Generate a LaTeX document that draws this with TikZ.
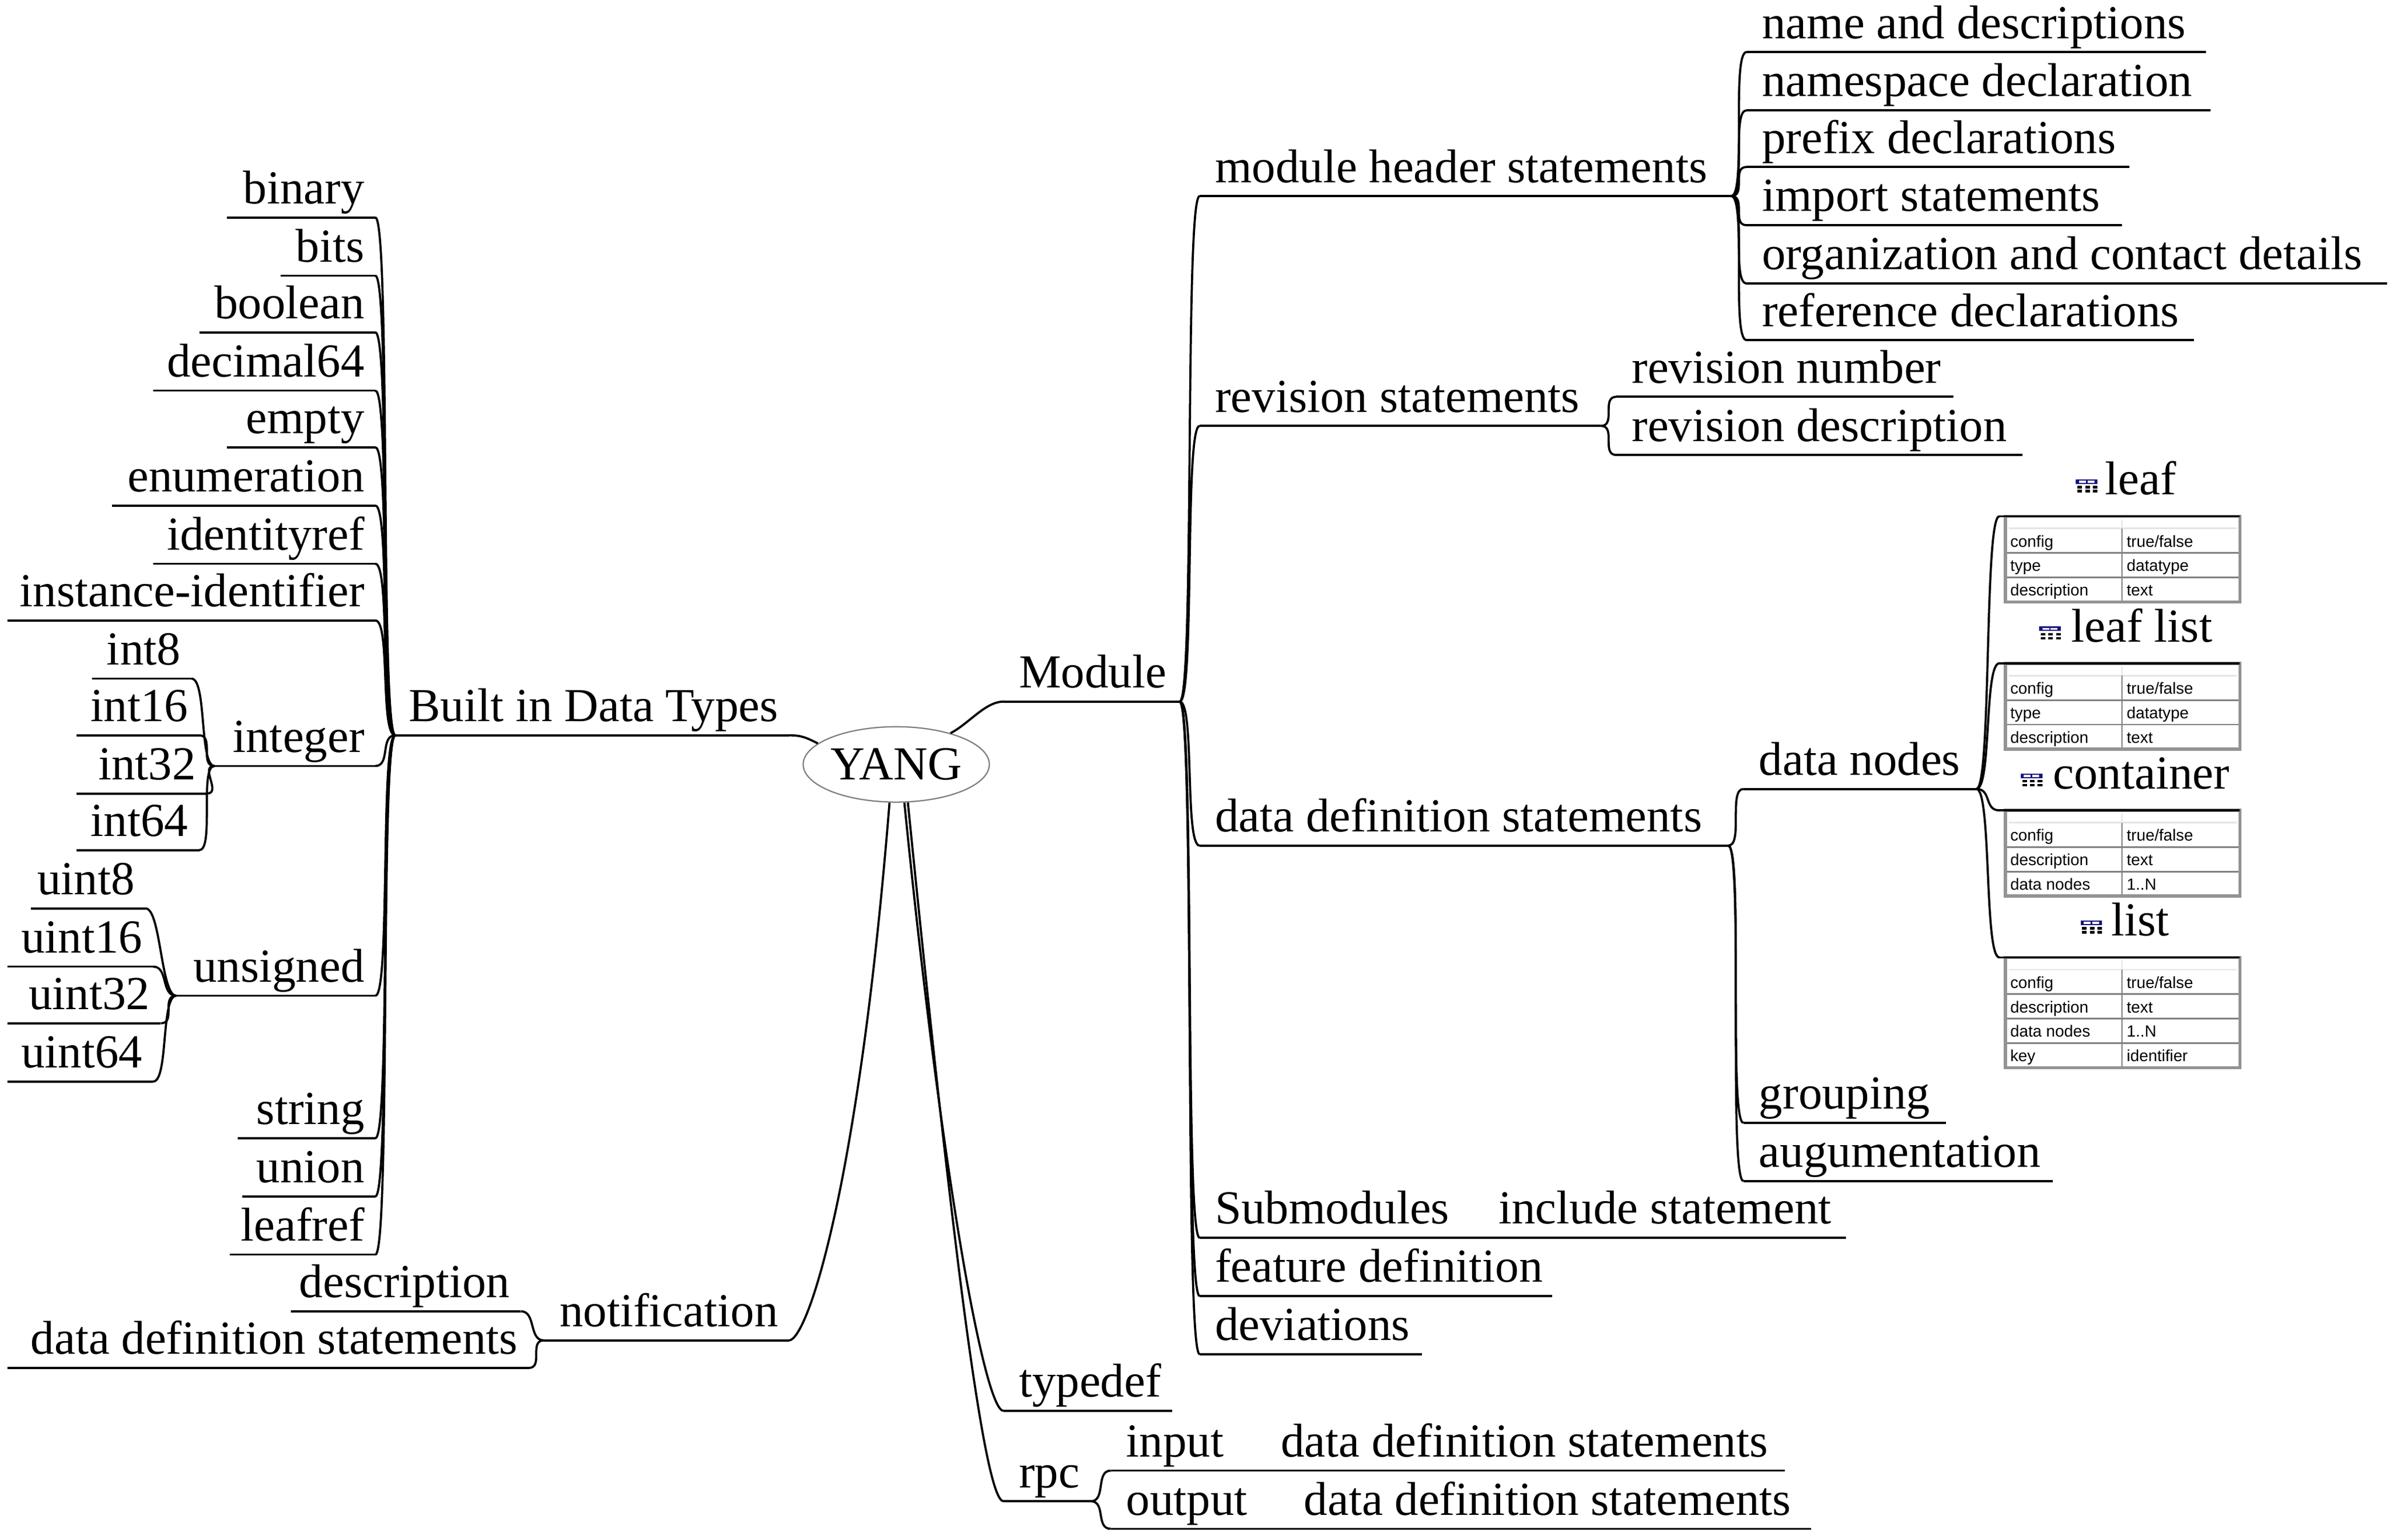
\documentclass[tikz,border=0pt]{standalone}
\usepackage{fontspec}
\setmainfont{Liberation Serif}
\newfontfamily\tfont{Liberation Sans}
\usetikzlibrary{calc,shapes.geometric}
\definecolor{iconblue}{RGB}{20,20,130}
\tikzset{
  ul/.style={line width=2pt,black},
  cn/.style={line width=2pt,black},
  lbl/.style={inner sep=0pt,font=\fontsize{44}{48}\selectfont},
  tcell/.style={inner sep=0pt,anchor=base west,font=\tfont\fontsize{15}{17}\selectfont},
  tframe/.style={draw=gray!85,line width=3pt},
  tgrid/.style={draw=gray,line width=1.5pt},
}
\newcommand\lab[5]{\coordinate (#1-s) at (#2,#4); \coordinate (#1-e) at (#3,#4);
  \draw[ul] (#1-s)--(#1-e); \node[lbl,anchor=base west] (#1) at ($(#1-s)+(10,-9)$) {#5};}
\newcommand\labL[5]{\coordinate (#1-s) at (#2,#4); \coordinate (#1-e) at (#3,#4);
  \draw[ul] (#1-s)--(#1-e); \node[lbl,anchor=base east] (#1) at ($(#1-e)+(-7,-9)$) {#5};}
\newcommand\cR[2]{\draw[cn] (#1) .. controls +(10,0) and +(-10,0) .. (#2);}
\newcommand\cL[2]{\draw[cn] (#1) .. controls +(-10,0) and +(10,0) .. (#2);}
\newcommand\icon[2]{%
  \fill[iconblue] (#1,#2-5) rectangle (#1+14,#2-2);
  \fill[white] (#1+2,#2-4.2) rectangle (#1+6.5,#2-2.8);
  \fill[white] (#1+7.5,#2-4.2) rectangle (#1+12,#2-2.8);
  \foreach \k in {0,5,10}{\fill[black] (#1+1+\k,#2-0.8) rectangle (#1+4+\k,#2+0.8);
    \fill[black] (#1+1+\k,#2+1.8) rectangle (#1+4+\k,#2+3.4);}}
\newcommand\tbl[3]{% name, top, rows
  \coordinate (#1) at (1305,#2);
  \fill[white] (1309,#2) rectangle (1462,{#2+8+16*#3});
  \draw[gray!20,line width=1.5pt] (1385,#2+2) -- (1385,#2+8) (1311,#2+8)--(1460,#2+8);
  \foreach \i in {1,...,#3}{\draw[tgrid] (1309,{#2+8+16*\i}) -- (1462,{#2+8+16*\i});}
  \draw[tgrid] (1385,#2+8) -- (1385,{#2+8+16*#3});
  \draw[tframe] (1309,#2) rectangle (1462,{#2+8+16*#3});
  \draw[cn] (#1) -- (1462,#2);}
\newcommand\trow[4]{\node[tcell] at (1312,{#1+8+16*#2-4}) {#3}; \node[tcell] at (1388,{#1+8+16*#2-4}) {#4};}
\begin{document}
\begin{tikzpicture}[x=0.05cm,y=-0.05cm]
\useasboundingbox (0,0) rectangle (1560,1005);
\node[ellipse,draw=gray,line width=1.2pt,minimum width=104,minimum height=70,inner sep=0pt,font=\fontsize{44}{48}\selectfont] (yang) at (585,499) {YANG};
% right
\lab{mod}{655}{770}{458}{Module}
\lab{mhs}{783}{1130}{128}{module header statements}
\lab{nd}{1140}{1440}{34}{name and descriptions}
\lab{ns}{1140}{1443}{72}{namespace declaration}
\lab{pd}{1140}{1390}{109}{prefix declarations}
\lab{is}{1140}{1385}{147}{import statements}
\lab{oc}{1140}{1558}{185}{organization and contact details}
\lab{rd}{1140}{1432}{222}{reference declarations}
\lab{rs}{783}{1045}{278}{revision statements}
\lab{rn}{1055}{1275}{259}{revision number}
\lab{rvd}{1055}{1320}{297}{revision description}
\lab{dds}{783}{1128}{552}{data definition statements}
\lab{dn}{1138}{1290}{515}{data nodes}
\lab{gr}{1138}{1270}{733}{grouping}
\lab{au}{1138}{1340}{771}{augumentation}
\lab{sm}{783}{960}{808}{Submodules}
\lab{inc}{968}{1205}{808}{include statement}
\lab{fd}{783}{1013}{846}{feature definition}
\lab{dv}{783}{928}{884}{deviations}
\lab{td}{655}{765}{921}{typedef}
\lab{rpc}{655}{712}{980}{rpc}
\lab{in}{725}{830}{960}{input}
\lab{out}{725}{845}{998}{output}
\lab{ind}{826}{1165}{960}{data definition statements}
\lab{outd}{841}{1182}{998}{data definition statements}
% left
\labL{bdt}{258}{515}{480}{Built in Data Types}
\labL{bin}{148}{245}{142}{binary}
\labL{bits}{183}{245}{180}{bits}
\labL{bool}{130}{245}{217}{boolean}
\labL{dec}{100}{245}{255}{decimal64}
\labL{emp}{148}{245}{292}{empty}
\labL{enu}{73}{245}{330}{enumeration}
\labL{idr}{100}{245}{368}{identityref}
\labL{iid}{5}{245}{405}{instance-identifier}
\labL{int}{140}{245}{500}{integer}
\labL{uns}{115}{245}{650}{unsigned}
\labL{str}{155}{245}{743}{string}
\labL{uni}{158}{245}{781}{union}
\labL{lr}{150}{245}{819}{leafref}
\labL{i8}{60}{125}{443}{int8}
\labL{i16}{50}{130}{480}{int16}
\labL{i32}{50}{135}{518}{int32}
\labL{i64}{50}{130}{555}{int64}
\labL{u8}{20}{95}{593}{uint8}
\labL{u16}{5}{100}{631}{uint16}
\labL{u32}{5}{105}{668}{uint32}
\labL{u64}{5}{100}{706}{uint64}
\labL{nt}{355}{515}{875}{notification}
\labL{ndesc}{190}{340}{856}{description}
\labL{nddd}{5}{345}{893}{data definition statements}
% tables
\icon{1355}{318}\node[lbl,anchor=base west] (tl1) at (1374,323) {leaf};
\tbl{t1}{337}{3}
\trow{337}{1}{config}{true/false}\trow{337}{2}{type}{datatype}\trow{337}{3}{description}{text}
\icon{1331}{414}\node[lbl,anchor=base west] (tl2) at (1352,419) {leaf list};
\tbl{t2}{433}{3}
\trow{433}{1}{config}{true/false}\trow{433}{2}{type}{datatype}\trow{433}{3}{description}{text}
\icon{1319}{510}\node[lbl,anchor=base west] (tl3) at (1340,515) {container};
\tbl{t3}{529}{3}
\trow{529}{1}{config}{true/false}\trow{529}{2}{description}{text}\trow{529}{3}{data nodes}{1..N}
\icon{1358}{606}\node[lbl,anchor=base west] (tl4) at (1378,611) {list};
\tbl{t4}{625}{4}
\trow{625}{1}{config}{true/false}\trow{625}{2}{description}{text}\trow{625}{3}{data nodes}{1..N}\trow{625}{4}{key}{identifier}
% connectors right
\draw[cn] (yang.30) .. controls +(12,-6) and +(-12,0) .. (mod-s);
\foreach \c in {mhs,rs,dds,sm,fd,dv}{\cR{mod-e}{\c-s}}
\foreach \c in {nd,ns,pd,is,oc,rd}{\cR{mhs-e}{\c-s}}
\foreach \c in {rn,rvd}{\cR{rs-e}{\c-s}}
\foreach \c in {dn,gr,au}{\cR{dds-e}{\c-s}}
\foreach \c in {t1,t2,t3,t4}{\cR{dn-e}{\c}}
\cR{sm-e}{inc-s}
\foreach \c in {in,out}{\cR{rpc-e}{\c-s}}
\cR{in-e}{ind-s}
\cR{out-e}{outd-s}
\draw[cn] (yang.282) .. controls +(25,250) and +(-12,0) .. (td-s);
\draw[cn] (yang.287) .. controls +(30,300) and +(-12,0) .. (rpc-s);
% connectors left
\draw[cn] (yang.165) .. controls +(-8,-4) and +(8,0) .. (bdt-e);
\foreach \c in {bin,bits,bool,dec,emp,enu,idr,iid,int,uns,str,uni,lr}{\cL{bdt-s}{\c-e}}
\foreach \c in {i8,i16,i32,i64}{\cL{int-s}{\c-e}}
\foreach \c in {u8,u16,u32,u64}{\cL{uns-s}{\c-e}}
\foreach \c in {ndesc,nddd}{\cL{nt-s}{\c-e}}
\draw[cn] (yang.260) .. controls +(-20,250) and +(12,0) .. (nt-e);
\end{tikzpicture}
\end{document}
